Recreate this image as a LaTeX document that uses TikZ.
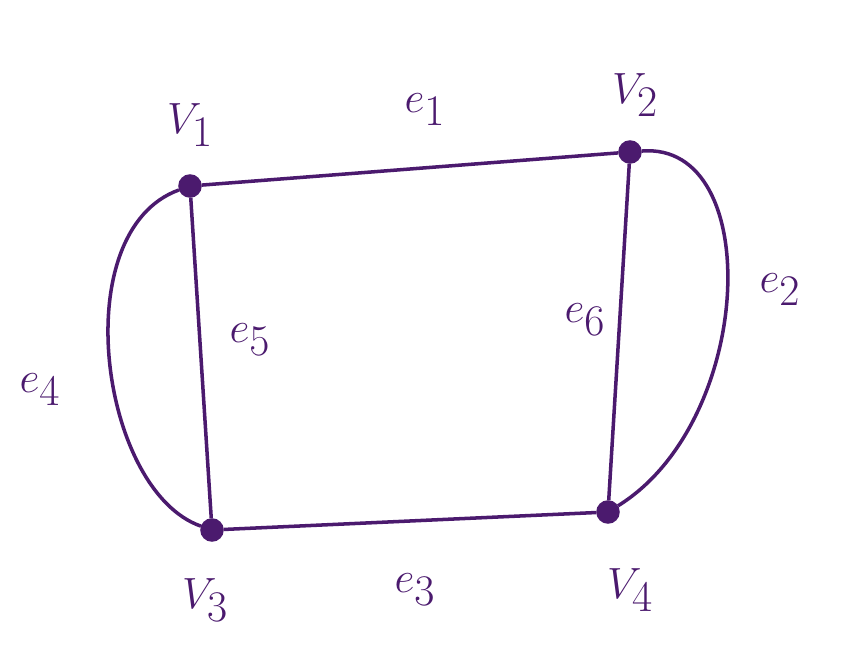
\documentclass[tikz,border=0pt]{standalone}
\usepackage{tikz}

\definecolor{ink}{RGB}{75,26,110}

\begin{document}
\begin{tikzpicture}[line width = 2pt, draw = ink,
    vert/.style = {shape = circle, draw = ink, fill = ink, minimum size = 0.4cm, inner sep = 0pt},
    lab/.style = {text = ink, font = \fontsize{38}{40}\selectfont}]
    \useasboundingbox (0,0) rectangle (17.14,13.42);
    % vertices
    \node[vert] (v1) at (3.80,9.70) {};
    \node[vert] (v2) at (12.60,10.38) {};
    \node[vert] (v3) at (4.24,2.82) {};
    \node[vert] (v4) at (12.16,3.18) {};
    % edges
    \draw[ink] (v1) -- (v2);
    \draw[ink] (v2) .. controls (15.3,10.6) and (15.1,5.0) .. (v4);
    \draw[ink] (v4) -- (v3);
    \draw[ink] (v1) .. controls (1.3,8.8) and (2.0,3.6) .. (v3);
    \draw[ink] (v1) -- (v3);
    \draw[ink] (v2) -- (v4);
    % labels
    \node[lab] (l1) at (3.80,10.92) {$V_1$};
    \node[lab] (l2) at (12.70,11.52) {$V_2$};
    \node[lab] (l3) at (4.10,1.42) {$V_3$};
    \node[lab] (l4) at (12.60,1.62) {$V_4$};
    \node[lab] (le1) at (8.50,11.22) {$e_1$};
    \node[lab] (le2) at (15.60,7.62) {$e_2$};
    \node[lab] (le3) at (8.30,1.62) {$e_3$};
    \node[lab] (le4) at (0.80,5.62) {$e_4$};
    \node[lab] (le5) at (5.00,6.62) {$e_5$};
    \node[lab] (le6) at (11.70,7.02) {$e_6$};
\end{tikzpicture}
\end{document}
